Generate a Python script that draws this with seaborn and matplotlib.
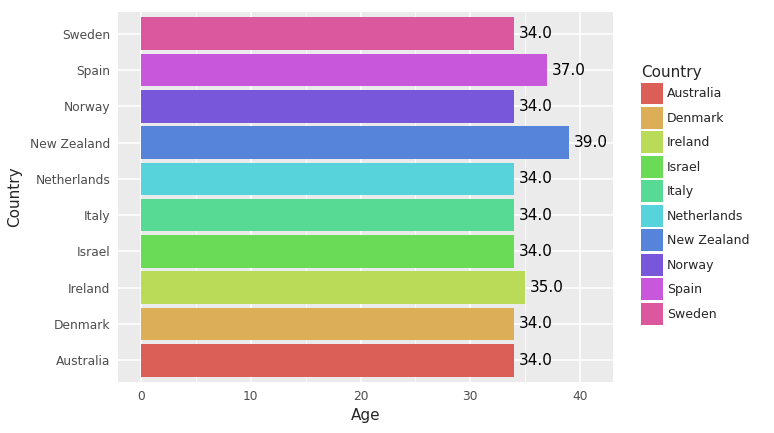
import matplotlib
matplotlib.use("Agg")
import matplotlib.pyplot as plt
from matplotlib.patches import Patch
import matplotlib.ticker as mticker
import seaborn as sns
import pandas as pd

countries = ["Australia", "Denmark", "Ireland", "Israel", "Italy",
             "Netherlands", "New Zealand", "Norway", "Spain", "Sweden"]
ages = [34.0, 34.0, 35.0, 34.0, 34.0, 34.0, 39.0, 34.0, 37.0, 34.0]

df = pd.DataFrame({"Country": countries, "Age": ages})

# ggplot-like hue palette
palette = sns.hls_palette(len(countries), h=0.01, l=0.6, s=0.65)
colors = dict(zip(countries, palette))

sns.set_style("white")
plt.rcParams["font.family"] = ["DejaVu Sans"]

fig = plt.figure(figsize=(7.74, 4.33), dpi=100)
ax = fig.add_axes([118 / 774, 51 / 433, 495 / 774, 370 / 433])
ax.set_facecolor("#EBEBEB")

order = countries[::-1]
sns.barplot(data=df, x="Age", y="Country", hue="Country", order=order,
            hue_order=countries, palette=colors, width=0.9, dodge=False,
            saturation=1, legend=False, linewidth=0, ax=ax)

for i, c in enumerate(order):
    v = df.loc[df["Country"] == c, "Age"].iloc[0]
    ax.text(v + 0.45, i, f"{v:.1f}", va="center", ha="left",
            fontsize=11, color="black")

ax.set_xlim(-2.1, 43.0)
ax.set_ylim(9.6, -0.6)
ax.xaxis.set_major_locator(mticker.MultipleLocator(10))
ax.xaxis.set_minor_locator(mticker.MultipleLocator(5))
ax.grid(which="major", color="white", linewidth=1.1)
ax.grid(which="minor", axis="x", color="white", linewidth=0.5)
ax.set_axisbelow(True)
for s in ax.spines.values():
    s.set_visible(False)

ax.tick_params(axis="both", which="major", length=3.5, width=0.8,
               color="#333333", labelcolor="#4D4D4D", labelsize=8.8,
               direction="out", pad=2)
ax.tick_params(which="minor", length=0)
ax.set_xlabel("Age", fontsize=11, labelpad=4)
ax.set_ylabel("Country", fontsize=11, labelpad=6)

handles = [Patch(facecolor=colors[c], edgecolor="none", label=c) for c in countries]
leg = fig.legend(handles=handles, title="Country", loc="upper left",
                 bbox_to_anchor=(636 / 774, 1 - 60 / 433), frameon=False,
                 fontsize=9, title_fontsize=11, handlelength=1.75,
                 handleheight=2.33, labelspacing=0.2, handletextpad=0.35,
                 borderaxespad=0, alignment="left")

fig.savefig("out.png", dpi=100)
